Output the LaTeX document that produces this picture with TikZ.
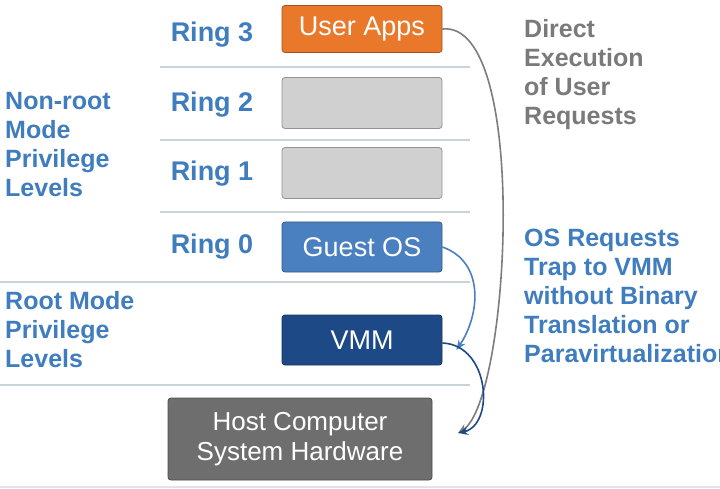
\documentclass[tikz,border=0pt]{standalone}
\usepackage{fontspec}
\setmainfont{Liberation Sans}
\usetikzlibrary{arrows.meta}
\definecolor{ringblue}{HTML}{3F7DBE}
\definecolor{orangeA}{HTML}{E9782B}
\definecolor{grayBox}{HTML}{D0D0D0}
\definecolor{guestblue}{HTML}{4A80BF}
\definecolor{vmmblue}{HTML}{1D4A86}
\definecolor{hwgray}{HTML}{6E6E6E}
\definecolor{sepline}{HTML}{C9D3D8}
\definecolor{txtgray}{HTML}{7A7A7A}
\begin{document}
\begin{tikzpicture}[x=1pt,y=-1pt,
  box/.style={draw=#1!70!black,line width=0.8pt,rounded corners=3pt,fill=#1},
  ring/.style={font=\fontsize{27}{30}\selectfont\bfseries,text=ringblue,anchor=center},
  btxt/.style={font=\fontsize{27}{30}\selectfont,text=white},
  sep/.style={draw=sepline,line width=1.5pt},
  lefttxt/.style={font=\fontsize{25}{29}\selectfont\bfseries,text=ringblue,align=left,anchor=north west,inner sep=0pt}]
\useasboundingbox (0,0) rectangle (720,489);
\fill[white] (0,0) rectangle (720,489);
\draw[sepline!60,line width=2pt] (0,487) -- (720,487);
% separators
\draw[sep] (160,67) -- (470,67);
\draw[sep] (160,140) -- (470,140);
\draw[sep] (160,212) -- (470,212);
\draw[sep] (0,282) -- (470,282);
\draw[sep] (0,385) -- (470,385);
% boxes
\node[box=orangeA,minimum width=160pt,minimum height=47pt,btxt] (apps) at (362,29) {User Apps};
\node[box=grayBox,minimum width=160pt,minimum height=51pt] (r2) at (362,103) {};
\node[box=grayBox,minimum width=160pt,minimum height=51pt] (r1) at (362,173) {};
\node[box=guestblue,minimum width=160pt,minimum height=50pt,btxt] (guest) at (362,247) {Guest OS};
\node[box=vmmblue,minimum width=160pt,minimum height=50pt,btxt] (vmm) at (362,340) {VMM};
\node[box=hwgray,minimum width=264pt,minimum height=82pt,btxt,align=center,font=\fontsize{26}{30}\selectfont] (hw) at (300,439) {Host Computer\\System Hardware};
% ring labels
\node[ring] (l3) at (212,35) {Ring 3};
\node[ring] (l2) at (212,105) {Ring 2};
\node[ring] (l1) at (212,174) {Ring 1};
\node[ring] (l0) at (212,247) {Ring 0};
% side texts
\node[lefttxt] (nonroot) at (5,92) {Non-root\\Mode\\Privilege\\Levels};
\node[lefttxt] (root) at (5,291) {Root Mode\\Privilege\\Levels};
\node[lefttxt,text=txtgray] (direct) at (524,19) {Direct\\Execution\\of User\\Requests};
\node[lefttxt] (osreq) at (524,229) {OS Requests\\Trap to VMM\\without Binary\\Translation or\\Paravirtualization};
% arrows
\coordinate (hwin) at (458,433);
\draw[-{Stealth[length=10pt,width=8pt]},line width=1.6pt,draw=hwgray!90] (apps.east) .. controls (530,20) and (510,400) .. (hwin);
\draw[-{Stealth[length=10pt,width=8pt]},line width=1.6pt,draw=guestblue] (guest.east) .. controls (485,262) and (480,315) .. ([xshift=14pt,yshift=-10pt]vmm.east);
\draw[-{Stealth[length=10pt,width=8pt]},line width=1.6pt,draw=vmmblue] ([yshift=-3pt]vmm.east) .. controls (490,345) and (495,425) .. (hwin);
\end{tikzpicture}
\end{document}
